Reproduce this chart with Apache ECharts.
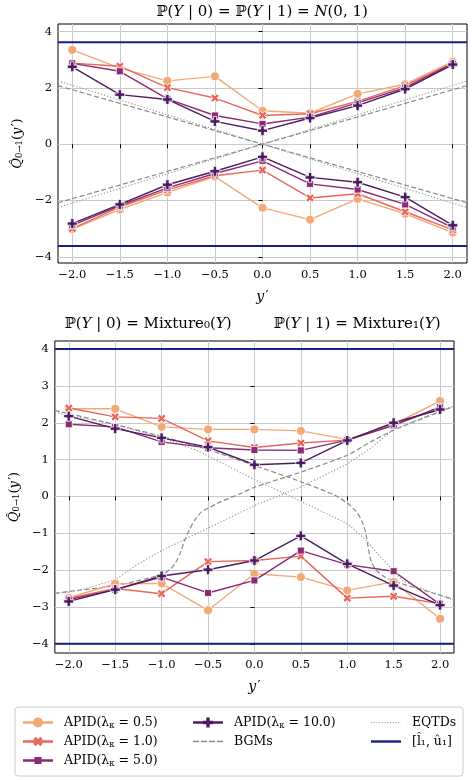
<!DOCTYPE html>
<html lang="en">
<head>
    <meta charset="UTF-8">
    <title>APID quantiles</title>
    <script src="https://cdn.jsdelivr.net/npm/echarts@6/dist/echarts.min.js"></script>
    <style>
        html, body { margin: 0; padding: 0; background: #fff; }
        #chart { width: 472px; height: 780px; }
    </style>
</head>
<body>
<div id="chart"></div>
<script>
    // x positions of the APID points
    var yPrime = [-2.0, -1.5, -1.0, -0.5, 0.0, 0.5, 1.0, 1.5, 2.0];
    var lambdas = ['0.5', '1.0', '5.0', '10.0'];

    // top panel, N(0,1): one row per lambda (0.5, 1.0, 5.0, 10.0)
    var normUpper = [
        [3.35, 2.70, 2.25, 2.41, 1.19, 1.10, 1.79, 2.13, 2.93],
        [2.88, 2.77, 2.01, 1.64, 1.02, 1.08, 1.52, 2.08, 2.88],
        [2.87, 2.59, 1.61, 1.02, 0.72, 0.96, 1.47, 2.01, 2.86],
        [2.75, 1.76, 1.59, 0.81, 0.48, 0.93, 1.37, 1.96, 2.83]
    ];
    var normLower = [
        [-3.02, -2.32, -1.71, -1.15, -2.26, -2.68, -1.94, -2.47, -3.14],
        [-3.00, -2.23, -1.62, -1.12, -0.92, -1.91, -1.76, -2.40, -3.04],
        [-2.88, -2.18, -1.55, -1.04, -0.59, -1.41, -1.61, -2.14, -2.96],
        [-2.82, -2.14, -1.44, -0.96, -0.45, -1.18, -1.35, -1.88, -2.88]
    ];

    // bottom panel, mixtures
    var mixUpper = [
        [2.38, 2.38, 1.89, 1.82, 1.82, 1.78, 1.55, 1.96, 2.59],
        [2.40, 2.16, 2.12, 1.51, 1.33, 1.45, 1.53, 1.93, 2.41],
        [1.96, 1.89, 1.48, 1.32, 1.26, 1.25, 1.53, 1.93, 2.43],
        [2.18, 1.84, 1.59, 1.34, 0.86, 0.91, 1.52, 2.00, 2.36]
    ];
    var mixLower = [
        [-2.75, -2.37, -2.36, -3.09, -2.10, -2.19, -2.55, -2.32, -3.32],
        [-2.77, -2.50, -2.64, -1.77, -1.74, -1.62, -2.76, -2.71, -2.91],
        [-2.80, -2.53, -2.19, -2.62, -2.28, -1.47, -1.85, -2.03, -2.93],
        [-2.85, -2.53, -2.16, -1.99, -1.74, -1.07, -1.83, -2.42, -2.95]
    ];

    // BGMs / EQTDs, top panel (straight lines)
    var normRefX = [-2.15, 0, 2.15];
    var normBgmDesc = [2.08, 0, -2.08];
    var normBgmAsc = [-2.08, 0, 2.08];
    var normEqtdDesc = [2.25, 0, -2.25];
    var normEqtdAsc = [-2.25, 0, 2.25];

    // BGMs / EQTDs, bottom panel
    var mixBgmAscX = [-2.15, -2.0, -1.5, -1.0, -0.9, -0.85, -0.8, -0.75, -0.7, -0.64, -0.57, -0.5, -0.36, -0.14, 0.0, 0.5, 1.0, 1.25, 1.5, 2.0, 2.15];
    var mixBgmAscY = [-2.63, -2.58, -2.42, -2.12, -1.96, -1.80, -1.54, -1.18, -0.90, -0.63, -0.42, -0.32, -0.14, 0.09, 0.25, 0.66, 1.12, 1.48, 1.80, 2.30, 2.45];
    var mixBgmDescX = [-2.15, -2.0, -1.5, -1.0, -0.5, 0.0, 0.5, 0.85, 1.0, 1.1, 1.16, 1.2, 1.23, 1.26, 1.32, 1.4, 1.5, 2.0, 2.15];
    var mixBgmDescY = [2.33, 2.25, 1.95, 1.63, 1.27, 0.84, 0.40, 0.05, -0.18, -0.42, -0.68, -1.00, -1.45, -1.78, -2.02, -2.18, -2.30, -2.68, -2.80];
    var mixEqtdAscX = [-2.15, -2.0, -1.75, -1.5, -1.25, -1.0, -0.5, 0.0, 0.5, 1.0, 1.25, 1.5, 2.0, 2.15];
    var mixEqtdAscY = [-2.64, -2.60, -2.45, -2.26, -1.83, -1.47, -0.86, -0.25, 0.26, 0.88, 1.30, 1.82, 2.33, 2.45];
    var mixEqtdDescX = [-2.15, -2.0, -1.5, -1.0, -0.64, -0.5, 0.0, 0.5, 1.0, 1.2, 1.36, 1.5, 1.6, 1.75, 2.0, 2.15];
    var mixEqtdDescY = [2.28, 2.20, 1.95, 1.60, 1.27, 1.10, 0.46, -0.13, -0.74, -1.18, -1.65, -2.02, -2.30, -2.45, -2.68, -2.82];

    // [l1, u1] bounds
    var normBound = [-3.62, 3.62];
    var mixBound = [-4, 4];

    // axes
    var xExtent = [-2.15, 2.15];
    var normYExtent = [-4.22, 4.27];
    var mixYExtent = [-4.25, 4.22];
    var xTicks = [-2.0, -1.5, -1.0, -0.5, 0.0, 0.5, 1.0, 1.5, 2.0];
    var normYTicks = [-4, -2, 0, 2, 4];
    var mixYTicks = [-4, -3, -2, -1, 0, 1, 2, 3, 4];

    var colors = ['#f3a976', '#e7675a', '#8a2a72', '#4b1c62'];
    var plusPath = 'path://M-1,-3H1V-1H3V1H1V3H-1V1H-3V-1H-1Z';
    var symbols = ['circle', plusPath, 'rect', plusPath];
    var symbolRot = [0, 45, 0, 0];
    var symbolSz = [9, 9, 7, 10];
    var FONT = 'DejaVu Serif';
    var minus = function (s) { return String(s).replace('-', '\u2212'); };

    // legend icons (30 x 13 box): solid line with the marker on top
    var lineBar = 'M0,5.3H30V7.7H0Z';
    var legendIcons = [
        'path://' + lineBar + 'M10,6.5A5,5 0 1,1 20,6.5A5,5 0 1,1 10,6.5Z',
        'path://' + lineBar + 'M17.33,1.76L19.74,4.17L17.4,6.5L19.74,8.83L17.33,11.24L15,8.9L12.67,11.24L10.26,8.83L12.6,6.5L10.26,4.17L12.67,1.76L15,4.1Z',
        'path://' + lineBar + 'M11.5,3H18.5V10H11.5Z',
        'path://' + lineBar + 'M13.3,1.5H16.7V4.8H20V8.2H16.7V11.5H13.3V8.2H10V4.8H13.3Z'
    ];
    function dashIcon(len, gap, h) {
        var p = '', x = 0;
        while (x < 30) {
            var w = Math.min(len, 30 - x);
            p += 'M' + x + ',' + (6.5 - h / 2) + 'h' + w + 'v' + h + 'h' + (-w) + 'Z';
            x += len + gap;
        }
        return 'path://' + p;
    }

    function apidName(i) { return 'APID(\u03bb\u03ba = ' + lambdas[i] + ')'; }
    var boundName = '[l\u0302\u2081, u\u0302\u2081]';

    function pairs(xs, ys) {
        return xs.map(function (x, i) { return [x, ys[i]]; });
    }

    var series = [];

    function addApid(grid, rows) {
        rows.forEach(function (row, i) {
            series.push({
                name: apidName(i),
                type: 'line',
                xAxisIndex: grid, yAxisIndex: grid,
                data: pairs(yPrime, row),
                symbol: symbols[i],
                symbolSize: symbolSz[i],
                symbolRotate: symbolRot[i],
                showAllSymbol: true,
                lineStyle: { color: colors[i], width: 1.4 },
                itemStyle: { color: colors[i], borderColor: '#fff', borderWidth: 0.8 },
                z: 3 + i,
                animation: false
            });
        });
    }

    function addRef(grid, name, xs, ys, type, color) {
        series.push({
            name: name,
            type: 'line',
            xAxisIndex: grid, yAxisIndex: grid,
            data: pairs(xs, ys),
            symbol: 'none',
            smooth: type === 'dashed' && xs.length > 3 ? 0.25 : 0,
            lineStyle: { color: color, width: 1.2, type: type === 'dashed' ? [5, 2.5] : [1.2, 2] },
            itemStyle: { color: color },
            z: 2,
            animation: false
        });
    }

    function addBound(grid, b) {
        b.forEach(function (v) {
            series.push({
                name: boundName,
                type: 'line',
                xAxisIndex: grid, yAxisIndex: grid,
                data: pairs(xExtent, [v, v]),
                symbol: 'none',
                lineStyle: { color: '#1c1c8a', width: 2 },
                itemStyle: { color: '#1c1c8a' },
                z: 8,
                animation: false
            });
        });
    }

    addRef(0, 'BGMs', normRefX, normBgmDesc, 'dashed', '#8a8a8a');
    addRef(0, 'BGMs', normRefX, normBgmAsc, 'dashed', '#8a8a8a');
    addRef(0, 'EQTDs', normRefX, normEqtdDesc, 'dotted', '#9a9a9a');
    addRef(0, 'EQTDs', normRefX, normEqtdAsc, 'dotted', '#9a9a9a');
    addApid(0, normUpper);
    addApid(0, normLower);
    addBound(0, normBound);

    addRef(1, 'BGMs', mixBgmAscX, mixBgmAscY, 'dashed', '#8a8a8a');
    addRef(1, 'BGMs', mixBgmDescX, mixBgmDescY, 'dashed', '#8a8a8a');
    addRef(1, 'EQTDs', mixEqtdAscX, mixEqtdAscY, 'dotted', '#9a9a9a');
    addRef(1, 'EQTDs', mixEqtdDescX, mixEqtdDescY, 'dotted', '#9a9a9a');
    addApid(1, mixUpper);
    addApid(1, mixLower);
    addBound(1, mixBound);

    var yName = '{i|y}\u200a\u2032';

    function xAxisOpt(grid) {
        return {
            type: 'value', gridIndex: grid,
            min: xExtent[0], max: xExtent[1],
            axisLine: { show: false },
            axisTick: { show: true, customValues: xTicks, length: 4, lineStyle: { color: '#000' } },
            axisLabel: {
                customValues: xTicks, color: '#000', fontFamily: FONT, fontSize: 11.5, margin: 6,
                formatter: function (v) { return minus(v.toFixed(1)); }
            },
            splitLine: { show: true, lineStyle: { color: '#c9c9c9', width: 1 } },
            name: yName, nameLocation: 'middle', nameGap: 27,
            nameTextStyle: { color: '#000', fontFamily: FONT, fontSize: 14, rich: { i: { fontStyle: 'italic', fontFamily: FONT, fontSize: 14 } } }
        };
    }

    function yAxisOpt(grid, ext, ticks, gap) {
        return {
            type: 'value', gridIndex: grid,
            min: ext[0], max: ext[1],
            axisLine: { show: false },
            axisTick: { show: true, customValues: ticks, length: 4, lineStyle: { color: '#000' } },
            axisLabel: {
                customValues: ticks, color: '#000', fontFamily: FONT, fontSize: 11.5, margin: 6,
                formatter: function (v) { return minus(v); }
            },
            splitLine: { show: true, lineStyle: { color: '#c9c9c9', width: 1 } },
            name: '{i|Q\u0302}{s|0\u21921}(' + yName + ')', nameLocation: 'middle', nameGap: gap, nameRotate: 90,
            nameTextStyle: {
                color: '#000', fontFamily: FONT, fontSize: 13,
                rich: {
                    i: { fontStyle: 'italic', fontFamily: FONT, fontSize: 13 },
                    s: { fontFamily: FONT, fontSize: 8.5, lineHeight: 9, verticalAlign: 'bottom' }
                }
            }
        };
    }

    var legendText = {
        color: '#000', fontFamily: FONT, fontSize: 12.5, lineHeight: 15, padding: [0, 0, 0, 6],
        rich: { s: { fontFamily: FONT, fontSize: 8.5, lineHeight: 9, verticalAlign: 'bottom' } }
    };
    function legendFmt(name) { return name.replace('\u03ba', '{s|\u03ba}'); }
    function apidItem(i) { return { name: apidName(i), icon: legendIcons[i], itemStyle: { borderWidth: 0 } }; }
    function iconItem(name, icon) { return { name: name, icon: icon, itemStyle: { borderWidth: 0 } }; }
    function legendOpt(left, names) {
        return {
            left: left, top: 710, height: 70, orient: 'vertical',
            itemWidth: 30, itemHeight: 13, itemGap: 4,
            selectedMode: false,
            textStyle: legendText,
            formatter: legendFmt,
            data: names
        };
    }

    var titleRich = { i: { fontStyle: 'italic', fontFamily: FONT, fontSize: 15 } };
    var titleFont = '15px "' + FONT + '"';

    var option = {
        backgroundColor: '#fff',
        animation: false,
        grid: [
            { left: 58, top: 24, width: 409, height: 239, show: true, borderColor: '#000', borderWidth: 1 },
            { left: 52, top: 341, width: 402, height: 312, show: true, borderColor: '#000', borderWidth: 1 }
        ],
        xAxis: [xAxisOpt(0), xAxisOpt(1)],
        yAxis: [yAxisOpt(0, normYExtent, normYTicks, 34), yAxisOpt(1, mixYExtent, mixYTicks, 27)],
        legend: [
            legendOpt(18, [apidItem(0), apidItem(1), apidItem(2)]),
            legendOpt(188, [apidItem(3), iconItem('BGMs', dashIcon(6, 2, 1.3))]),
            legendOpt(366, [iconItem('EQTDs', dashIcon(1.1, 1.6, 1.1)), iconItem(boundName, 'path://' + lineBar)])
        ],
        graphic: [
            {
                type: 'rect', z: -1, silent: true,
                shape: { x: 15, y: 707, width: 448, height: 69, r: 3 },
                style: { fill: '#fff', stroke: '#cccccc', lineWidth: 1 }
            },
            {
                type: 'text', x: 262, y: 12,
                style: {
                    text: '\u2119({i|Y} | 0) = \u2119({i|Y} | 1) = {i|N}(0, 1)',
                    align: 'center', verticalAlign: 'middle',
                    fill: '#000', font: titleFont, rich: titleRich
                }
            },
            {
                type: 'text', x: 148, y: 324,
                style: {
                    text: '\u2119({i|Y} | 0) = Mixture\u2080({i|Y})',
                    align: 'center', verticalAlign: 'middle',
                    fill: '#000', font: titleFont, rich: titleRich
                }
            },
            {
                type: 'text', x: 357, y: 324,
                style: {
                    text: '\u2119({i|Y} | 1) = Mixture\u2081({i|Y})',
                    align: 'center', verticalAlign: 'middle',
                    fill: '#000', font: titleFont, rich: titleRich
                }
            }
        ],
        series: series
    };

    var myChart = echarts.init(document.getElementById('chart'));
    myChart.setOption(option);
    window.onresize = myChart.resize;
</script>
</body>
</html>
